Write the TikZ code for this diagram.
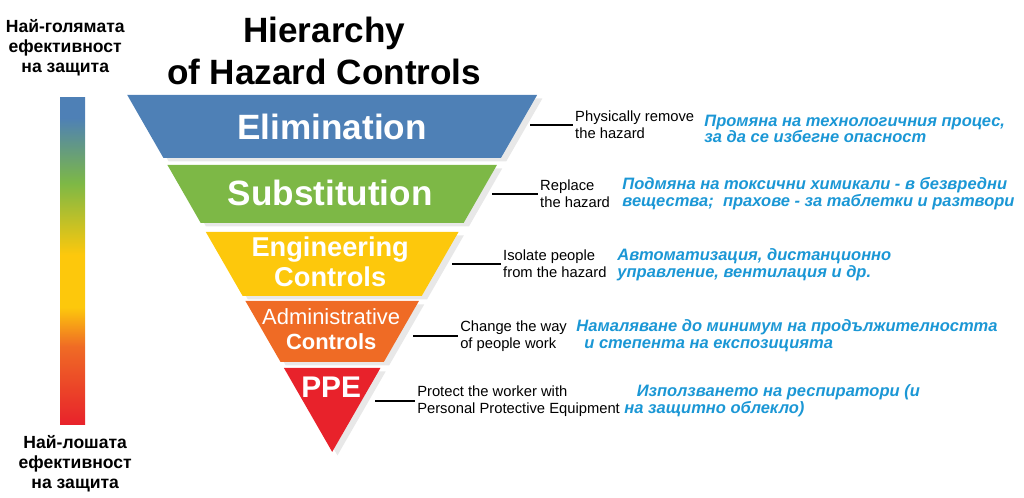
\documentclass[tikz,border=0pt]{standalone}
\usepackage{fontspec}
\setmainfont{Liberation Sans}
\usetikzlibrary{positioning}
\usetikzlibrary{shadows}
\definecolor{elimblue}{HTML}{4E80B6}
\definecolor{substgreen}{HTML}{7DB846}
\definecolor{enggold}{HTML}{FDC80C}
\definecolor{admorange}{HTML}{EF6B25}
\definecolor{ppered}{HTML}{E8222B}
\definecolor{hintblue}{HTML}{1B97D5}
\pgfdeclareverticalshading{ratingbar}{100bp}{color(0bp)=(ppered); color(25bp)=(ppered); color(37bp)=(admorange); color(43bp)=(enggold); color(51bp)=(enggold); color(62bp)=(substgreen); color(72bp)=(elimblue); color(75bp)=(elimblue); color(100bp)=(elimblue)}
\tikzset{
    bandn/.style = {draw=none, drop shadow={shadow xshift=3pt, shadow yshift=-2pt, opacity=0.18}},
    bandtext/.style = {align=center, text=white, font=\bfseries\fontsize{20}{24}\selectfont},
    bandtexts/.style = {align=center, text=white, font=\bfseries\fontsize{15.5}{17}\selectfont},
    titlenode/.style = {align=center, text=black, font=\bfseries\fontsize{20}{23.8}\selectfont},
    sidenode/.style = {align=center, text=black, font=\bfseries\fontsize{10}{11.3}\selectfont},
    descn/.style = {anchor=west, align=left, inner sep=1pt, text=black, font=\fontsize{8.4}{9.7}\selectfont},
    bgn/.style = {anchor=west, align=left, inner sep=0pt, text=hintblue, font=\bfseries\itshape\fontsize{9.4}{9.6}\selectfont},
    edgen/.style = {-, line width=1.2pt, black}
}
\begin{document}
\begin{tikzpicture}[x=0.02cm, y=-0.02cm]
% rating bar
\shade[shading=ratingbar] (60,98) rectangle (85,425);
\node[sidenode] at (65,48) (best) {Най-голямата\\ефективност\\на защита};
\node[sidenode] at (75,464) (worst) {Най-лошата\\ефективност\\на защита};
%
\node[titlenode] at (324,51) (title) {Hierarchy\\of Hazard Controls};
% funnel
\fill[bandn, fill=elimblue] (127,95) -- (537,95) -- (500.8,158) -- (163.2,158) -- cycle;
\fill[bandn, fill=substgreen] (167.2,165) -- (496.8,165) -- (463.5,223) -- (200.5,223) -- cycle;
\fill[bandn, fill=enggold] (205.6,232) -- (458.4,232) -- (421.6,296) -- (242.4,296) -- cycle;
\fill[bandn, fill=admorange] (245.2,301) -- (418.8,301) -- (383.7,362) -- (280.3,362) -- cycle;
\fill[bandn, fill=ppered] (283.7,368) -- (380.3,368) -- (332,452) -- cycle;
%
\node[bandtext] at (332,127) (elim) {Elimination};
\node[bandtext] at (330,193) (subst) {Substitution};
\node[bandtexts] at (330,262) (eng) {Engineering\\Controls};
\node[bandtexts, font=\fontsize{12.5}{14.2}\selectfont] at (331,329) (adm) {Administrative\\\textbf{Controls}};
\node[bandtext, font=\bfseries\fontsize{17}{20}\selectfont] at (331,387) (ppe) {PPE};
% descriptions
\coordinate (elimend) at (530,125);
\node[descn] at (573,125) (elimdesc) {Physically remove\\the hazard};
\node[bgn] at (704,129) (elimbg) {Промяна на технологичния процес,\\за да се избегне опасност};
%
\coordinate (substend) at (492,194);
\node[descn] at (538,194) (substdesc) {Replace\\the hazard};
\node[bgn] at (622,194) (substbg) {Подмяна на токсични химикали - в безвредни\\вещества;~ прахове - за таблетки и разтвори};
%
\coordinate (engend) at (452,264);
\node[descn] at (501,264) (engdesc) {Isolate people\\from the hazard};
\node[bgn] at (617,265) (engbg) {Автоматизация, дистанционно\\управление, вентилация и др.};
%
\coordinate (admend) at (413,336);
\node[descn] at (458,336) (admdesc) {Change the way\\of people work};
\node[bgn] at (576,336) (admbg) {Намаляване до минимум на продължителността\\\hspace*{4.5pt}и степента на експозицията};
%
\coordinate (ppeend) at (375,401);
\node[descn] at (415,401) (ppedesc) {Protect the worker with\\Personal Protective Equipment};
\node[bgn] at (624,401) (ppebg) {\hspace*{7pt}Използването на респиратори (и\\на защитно облекло)};
% links
\draw[edgen] (elimend) edge node {} (elimdesc);
\draw[edgen] (substend) edge node {} (substdesc);
\draw[edgen] (engend) edge node {} (engdesc);
\draw[edgen] (admend) edge node {} (admdesc);
\draw[edgen] (ppeend) edge node {} (ppedesc);

\path[use as bounding box] (0,0) rectangle (1024,494);
\end{tikzpicture}
\end{document}
